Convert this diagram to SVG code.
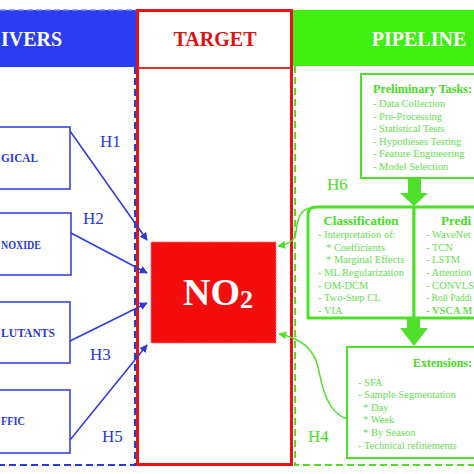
<svg xmlns="http://www.w3.org/2000/svg" width="474" height="474" viewBox="0 0 474 474">
<defs>
<style>
.hdr{font-family:"Liberation Serif","Times New Roman",serif;font-weight:bold;font-size:20px}
.nd{fill:#fff;stroke:#2b3ad8;stroke-width:1.5}
.ndt{font-family:"Liberation Serif",serif;font-weight:bold;font-size:12px;fill:#2b3ad8}
.hl{font-family:"Liberation Serif",serif;font-size:17px}
.bl{fill:#2b3ad8}
.gl{fill:#4ee02a}
.bc{stroke:#2b3ad8;stroke-width:1.5;fill:none}
.gc{stroke:#4ee02a;stroke-width:1.5;fill:none}
.gt{font-family:"Liberation Serif",serif;font-weight:bold;font-size:13px;fill:#44dd22}
.gi{font-family:"Liberation Serif",serif;font-size:10.5px;fill:#66e050}
.gbox{fill:#fff;stroke:#4ee02a}
</style>
<marker id="ab" viewBox="0 0 10 10" refX="9" refY="5" markerWidth="8" markerHeight="8" orient="auto" markerUnits="userSpaceOnUse"><path d="M0,0 L10,5 L0,10 z" fill="#2b3ad8"/></marker>
<marker id="ag" viewBox="0 0 10 10" refX="9" refY="5" markerWidth="8" markerHeight="8" orient="auto" markerUnits="userSpaceOnUse"><path d="M0,0 L10,5 L0,10 z" fill="#4ee02a"/></marker>
</defs>
<rect width="474" height="474" fill="#fff"/>

<g id="drivers-panel">
<rect x="-5" y="10" width="141" height="57" fill="#2b3df2"/>
<path d="M0,10 H136" stroke="#7f8cff" stroke-width="1.5" stroke-dasharray="6,3"/>
<path d="M135,67 V465 H0" stroke="#2b3ad8" stroke-width="2" stroke-dasharray="7,4" fill="none"/>
<text class="hdr" x="1" y="46" fill="#fff">IVERS</text>
</g>

<g id="target-panel">
<rect x="137.5" y="10.5" width="154" height="454" fill="none" stroke="#ee1111" stroke-width="3"/>
<path d="M138,68 H291" stroke="#dd3333" stroke-width="2"/>
<text class="hdr" x="215" y="46" fill="#dd1111" text-anchor="middle">TARGET</text>
</g>

<g id="pipeline-panel">
<rect x="293" y="10" width="185" height="56" fill="#40ee10"/>
<path d="M295,66 V465 H474" stroke="#55dd22" stroke-width="2" stroke-dasharray="7,4" fill="none"/>
<text class="hdr" x="419" y="46" fill="#fff" text-anchor="middle">PIPELINE</text>
</g>

<g id="node-meteorological">
<rect class="nd" x="-5" y="127" width="75" height="62"/>
<text class="ndt" x="1" y="162" textLength="37" lengthAdjust="spacingAndGlyphs">GICAL</text>
</g>
<g id="node-monoxide">
<rect class="nd" x="-5" y="213" width="76" height="62"/>
<text class="ndt" x="1" y="249" textLength="40" lengthAdjust="spacingAndGlyphs">NOXIDE</text>
</g>
<g id="node-pollutants">
<rect class="nd" x="-5" y="302" width="75" height="61"/>
<text class="ndt" x="1" y="337" textLength="54" lengthAdjust="spacingAndGlyphs">LUTANTS</text>
</g>
<g id="node-traffic">
<rect class="nd" x="-5" y="390" width="75" height="63"/>
<text class="ndt" x="1" y="425" textLength="24" lengthAdjust="spacingAndGlyphs">FFIC</text>
</g>

<g id="node-no2">
<rect x="151" y="242" width="125" height="101" fill="#f40d0d" stroke="#ff7777" stroke-width="1" stroke-dasharray="2,1"/>
<text x="183" y="305" font-family="Liberation Serif,serif" font-weight="bold" font-size="38" fill="#fff">NO<tspan font-size="26" dy="3">2</tspan></text>
</g>

<g id="node-preliminary">
<rect class="gbox" x="361" y="74" width="120" height="104" stroke-width="2"/>
<text class="gt" x="373" y="93" textLength="99" lengthAdjust="spacingAndGlyphs">Preliminary Tasks:</text>
<text class="gi" x="373" y="107">- Data Collection</text>
<text class="gi" x="373" y="120">- Pre-Processing</text>
<text class="gi" x="373" y="132">- Statistical Tests</text>
<text class="gi" x="373" y="145">- Hypotheses Testing</text>
<text class="gi" x="373" y="157">- Feature Engineering</text>
<text class="gi" x="373" y="170">- Model Selection</text>
</g>

<g id="node-classification">
<path class="gbox" d="M414,207 H316 Q308,207 308,215 V318 H414 Z" stroke-width="3"/>
<text class="gt" x="361" y="225" text-anchor="middle" font-size="12.5">Classification</text>
<text class="gi" x="318" y="238">- Interpretation of:</text>
<text class="gi" x="326" y="251">* Coefficients</text>
<text class="gi" x="326" y="263">* Marginal Effects</text>
<text class="gi" x="318" y="276">- ML Regularization</text>
<text class="gi" x="318" y="289">- OM-DCM</text>
<text class="gi" x="318" y="301">- Two-Step CL</text>
<text class="gi" x="318" y="314">- VIA</text>
</g>

<g id="node-prediction">
<rect class="gbox" x="414" y="207" width="70" height="111" stroke-width="3"/>
<text class="gt" x="441" y="225" font-size="12.5">Predi</text>
<text class="gi" x="426" y="238">- WaveNet</text>
<text class="gi" x="426" y="251">- TCN</text>
<text class="gi" x="426" y="263">- LSTM</text>
<text class="gi" x="426" y="276">- Attention</text>
<text class="gi" x="426" y="289">- CONVLS</text>
<text class="gi" x="426" y="301" textLength="46" lengthAdjust="spacingAndGlyphs">- Roll Paddi</text>
<text class="gi" x="426" y="314" font-weight="bold">- VSCA M</text>
</g>

<g id="node-extensions">
<rect class="gbox" x="347" y="347" width="135" height="111" stroke-width="2"/>
<text class="gt" x="413" y="367" textLength="59" lengthAdjust="spacingAndGlyphs">Extensions:</text>
<text class="gi" x="358" y="386">- SFA</text>
<text class="gi" x="358" y="398">- Sample Segmentation</text>
<text class="gi" x="363" y="411">* Day</text>
<text class="gi" x="363" y="423">* Week</text>
<text class="gi" x="363" y="436">* By Season</text>
<text class="gi" x="358" y="449">- Technical refinements</text>
</g>

<g id="connectors">
<path class="bc" d="M70,131 L147,240" marker-end="url(#ab)"/>
<path class="bc" d="M71,233 L147,273" marker-end="url(#ab)"/>
<path class="bc" d="M70,341 L147,303" marker-end="url(#ab)"/>
<path class="bc" d="M70,440 L147,345" marker-end="url(#ab)"/>
<path class="gc" d="M312,208 C299,208 297,222 296,232 C295,240 290,244 278,246" marker-end="url(#ag)"/>
<path class="gc" d="M347,419 C326,412 322,385 318,367 C314,349 300,338 279,334" marker-end="url(#ag)"/>
<polygon class="gl" points="408,178 421,178 421,193 428,193 414,206 400,193 408,193"/>
<polygon class="gl" points="407,318 420,318 420,328 428,328 414,346 400,328 407,328"/>
<text class="hl bl" x="100" y="147">H1</text>
<text class="hl bl" x="83" y="224">H2</text>
<text class="hl bl" x="90" y="360">H3</text>
<text class="hl bl" x="102" y="442">H5</text>
<text class="hl gl" x="327" y="190">H6</text>
<text class="hl gl" x="308" y="442">H4</text>
</g>
</svg>
